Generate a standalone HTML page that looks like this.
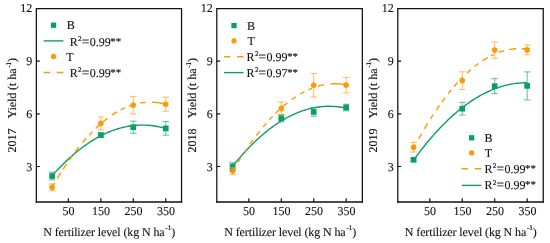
<!DOCTYPE html>
<html lang="en"><head><meta charset="utf-8"><title>Yield vs N fertilizer level</title>
<style>html,body{margin:0;padding:0;background:#fff}svg{display:block}svg text{stroke:#111;stroke-width:0.1px;text-rendering:geometricPrecision}</style></head>
<body>
<svg width="550" height="243" viewBox="0 0 550 243" font-family="'Liberation Serif', 'Times New Roman', serif" font-size="12" fill="#111">
<rect width="550" height="243" fill="#fff"/>
<g>
<rect x="49.30" y="173.15" width="5.7" height="5.7" fill="#0c9f64"/>
<rect x="97.98" y="132.25" width="5.7" height="5.7" fill="#0c9f64"/>
<rect x="130.43" y="124.35" width="5.7" height="5.7" fill="#0c9f64"/>
<rect x="162.88" y="125.55" width="5.7" height="5.7" fill="#0c9f64"/>
<circle cx="52.15" cy="187.30" r="2.8" fill="#ff9906"/>
<circle cx="100.83" cy="123.40" r="2.8" fill="#ff9906"/>
<circle cx="133.28" cy="105.10" r="2.8" fill="#ff9906"/>
<circle cx="165.73" cy="104.20" r="2.8" fill="#ff9906"/>
<path d="M52.15 172.10V179.90M48.80 172.10H55.50M48.80 179.90H55.50M100.83 133.10V137.10M97.48 133.10H104.18M97.48 137.10H104.18M133.28 121.10V133.30M129.93 121.10H136.62M129.93 133.30H136.62M165.73 121.60V135.20M162.38 121.60H169.08M162.38 135.20H169.08" stroke="#0c9f64" stroke-width="0.65" fill="none"/>
<path d="M52.15 183.90V190.70M48.80 183.90H55.50M48.80 190.70H55.50M100.83 117.00V129.80M97.48 117.00H104.18M97.48 129.80H104.18M133.28 96.40V113.80M129.93 96.40H136.62M129.93 113.80H136.62M165.73 97.20V111.20M162.38 97.20H169.08M162.38 111.20H169.08" stroke="#ff9906" stroke-width="0.65" fill="none"/>
<path d="M52.15 175.70 L53.77 173.89 L55.40 172.12 L57.02 170.38 L58.64 168.67 L60.26 167.00 L61.89 165.35 L63.51 163.74 L65.13 162.17 L66.75 160.62 L68.38 159.11 L70.00 157.63 L71.62 156.19 L73.24 154.78 L74.87 153.40 L76.49 152.05 L78.11 150.73 L79.73 149.45 L81.36 148.20 L82.98 146.99 L84.60 145.81 L86.22 144.66 L87.85 143.54 L89.47 142.45 L91.09 141.40 L92.71 140.38 L94.34 139.40 L95.96 138.44 L97.58 137.52 L99.20 136.64 L100.83 135.78 L102.45 134.96 L104.07 134.17 L105.69 133.41 L107.32 132.69 L108.94 132.00 L110.56 131.34 L112.18 130.72 L113.81 130.12 L115.43 129.57 L117.05 129.04 L118.67 128.54 L120.30 128.08 L121.92 127.66 L123.54 127.26 L125.16 126.90 L126.79 126.57 L128.41 126.27 L130.03 126.01 L131.65 125.78 L133.28 125.58 L134.90 125.41 L136.52 125.28 L138.14 125.18 L139.77 125.11 L141.39 125.08 L143.01 125.08 L144.63 125.11 L146.26 125.17 L147.88 125.27 L149.50 125.40 L151.12 125.56 L152.75 125.76 L154.37 125.98 L155.99 126.24 L157.61 126.54 L159.24 126.87 L160.86 127.22 L162.48 127.62 L164.10 128.04 L165.73 128.50" stroke="#0c9f64" stroke-width="1.4" fill="none"/>
<path d="M52.00 187.46 L53.30 185.22 L54.60 183.00M57.40 178.33 L59.15 175.49 L60.90 172.69M63.10 169.26 L64.85 166.59 L66.60 163.97M69.10 160.33 L70.70 158.05 L72.30 155.83M75.30 151.77 L77.05 149.48 L78.80 147.24M82.60 142.57 L84.35 140.50 L86.10 138.49M89.10 135.16 L90.75 133.40 L92.40 131.69M95.80 128.32 L97.35 126.85 L98.90 125.42M103.20 121.68 L104.67 120.48 L106.13 119.32 L107.60 118.19M112.00 115.05 L113.67 113.95 L115.33 112.89 L117.00 111.89M120.70 109.84 L122.17 109.09 L123.63 108.39 L125.10 107.72M129.00 106.12 L130.40 105.61 L131.80 105.14 L133.20 104.70M139.90 103.09 L141.35 102.84 L142.80 102.63 L144.25 102.46 L145.70 102.33M152.10 102.19 L153.59 102.26 L155.08 102.37 L156.57 102.52 L158.06 102.71 L159.54 102.93 L161.03 103.20 L162.52 103.51 L164.01 103.85 L165.50 104.24" stroke="#ff9906" stroke-width="1.4" fill="none"/>
<path d="M35.73 8.65H182.17" stroke="#111" stroke-width="1.25" fill="none"/>
<path d="M35.73 202.05H182.17" stroke="#111" stroke-width="1.40" fill="none"/>
<path d="M36.35 8.65V202.75M181.55 8.65V202.75" stroke="#111" stroke-width="1.25" fill="none"/>
<path d="M68.38 202.05V198.2M100.83 202.05V198.2M133.28 202.05V198.2M165.73 202.05V198.2M36.35 166.52h3.4M36.35 113.78h3.4M36.35 61.04h3.4" stroke="#111" stroke-width="1.2" fill="none"/>
<text x="68.58" y="214.5" text-anchor="middle">50</text>
<text x="101.03" y="214.5" text-anchor="middle">150</text>
<text x="133.47" y="214.5" text-anchor="middle">250</text>
<text x="165.93" y="214.5" text-anchor="middle">350</text>
<text x="32.35" y="170.67" text-anchor="end">3</text>
<text x="32.35" y="117.93" text-anchor="end">6</text>
<text x="32.35" y="65.19" text-anchor="end">9</text>
<text x="32.35" y="12.45" text-anchor="end">12</text>
<text x="109.15" y="235.8" text-anchor="middle" letter-spacing="-0.11">N fertilizer level (kg N ha<tspan font-size="7.2" dy="-5.7" dx="0.8" stroke-width="0.18">-1</tspan><tspan dy="5.7">)</tspan></text>
<text transform="translate(16.35 152.4) rotate(-90)">2017</text>
<text transform="translate(16.35 118.5) rotate(-90)" letter-spacing="-0.07">Yield (t ha<tspan font-size="7.2" dy="-5.7" dx="0.8" stroke-width="0.18">-1</tspan><tspan dy="5.7">)</tspan></text>
<rect x="50.90" y="22.55" width="5.3" height="5.3" fill="#0c9f64"/>
<text x="66.65" y="29.40">B</text>
<path d="M43.65 40.90H63.45" stroke="#0c9f64" stroke-width="1.4"/>
<text x="69.65" y="45.70">R<tspan font-size="7.1" dy="-4.8" dx="0.4" stroke-width="0.22">2</tspan><tspan font-size="13.5" dy="4.8" dx="0.1">=</tspan><tspan dx="0.3">0.99</tspan><tspan font-size="10.8" dy="-1.0" dx="-0.3">**</tspan></text>
<circle cx="53.55" cy="56.50" r="2.65" fill="#ff9906"/>
<text x="66.35" y="60.90">T</text>
<path d="M43.65 72.50h6.4M63.45 72.50h-6.6" stroke="#ff9906" stroke-width="1.4"/>
<text x="69.65" y="76.50">R<tspan font-size="7.1" dy="-4.8" dx="0.4" stroke-width="0.22">2</tspan><tspan font-size="13.5" dy="4.8" dx="0.1">=</tspan><tspan dx="0.3">0.99</tspan><tspan font-size="10.8" dy="-1.0" dx="-0.3">**</tspan></text>
</g>
<g>
<rect x="229.75" y="163.65" width="5.7" height="5.7" fill="#0c9f64"/>
<rect x="278.43" y="115.35" width="5.7" height="5.7" fill="#0c9f64"/>
<rect x="310.88" y="109.05" width="5.7" height="5.7" fill="#0c9f64"/>
<rect x="343.32" y="104.65" width="5.7" height="5.7" fill="#0c9f64"/>
<circle cx="232.60" cy="171.00" r="2.8" fill="#ff9906"/>
<circle cx="281.28" cy="108.40" r="2.8" fill="#ff9906"/>
<circle cx="313.73" cy="85.20" r="2.8" fill="#ff9906"/>
<circle cx="346.18" cy="85.10" r="2.8" fill="#ff9906"/>
<path d="M232.60 162.70V170.30M229.25 162.70H235.95M229.25 170.30H235.95M281.28 114.50V121.90M277.93 114.50H284.63M277.93 121.90H284.63M313.73 107.60V116.20M310.38 107.60H317.08M310.38 116.20H317.08M346.18 104.20V110.80M342.82 104.20H349.53M342.82 110.80H349.53" stroke="#0c9f64" stroke-width="0.65" fill="none"/>
<path d="M232.60 167.40V174.60M229.25 167.40H235.95M229.25 174.60H235.95M281.28 102.00V114.80M277.93 102.00H284.63M277.93 114.80H284.63M313.73 73.40V97.00M310.38 73.40H317.08M310.38 97.00H317.08M346.18 77.30V92.90M342.82 77.30H349.53M342.82 92.90H349.53" stroke="#ff9906" stroke-width="0.65" fill="none"/>
<path d="M232.60 166.30 L234.22 164.30 L235.85 162.33 L237.47 160.39 L239.09 158.49 L240.71 156.62 L242.34 154.78 L243.96 152.98 L245.58 151.22 L247.20 149.49 L248.83 147.79 L250.45 146.12 L252.07 144.49 L253.69 142.90 L255.32 141.34 L256.94 139.81 L258.56 138.31 L260.18 136.85 L261.81 135.43 L263.43 134.04 L265.05 132.68 L266.67 131.36 L268.30 130.07 L269.92 128.81 L271.54 127.59 L273.16 126.40 L274.79 125.25 L276.41 124.13 L278.03 123.04 L279.65 121.99 L281.28 120.98 L282.90 119.99 L284.52 119.04 L286.14 118.13 L287.76 117.25 L289.39 116.40 L291.01 115.59 L292.63 114.81 L294.25 114.06 L295.88 113.35 L297.50 112.68 L299.12 112.03 L300.75 111.42 L302.37 110.85 L303.99 110.31 L305.61 109.80 L307.24 109.33 L308.86 108.89 L310.48 108.49 L312.10 108.12 L313.73 107.78 L315.35 107.48 L316.97 107.21 L318.59 106.97 L320.22 106.77 L321.84 106.61 L323.46 106.48 L325.08 106.38 L326.71 106.31 L328.33 106.28 L329.95 106.29 L331.57 106.33 L333.19 106.40 L334.82 106.50 L336.44 106.64 L338.06 106.82 L339.69 107.03 L341.31 107.27 L342.93 107.55 L344.55 107.86 L346.18 108.20" stroke="#0c9f64" stroke-width="1.4" fill="none"/>
<path d="M232.60 171.30 L234.50 168.09M238.00 162.35 L239.25 160.34 L240.50 158.36M244.90 151.61 L247.10 148.35M250.00 144.18 L251.60 141.93 L253.20 139.74M256.30 135.59 L258.05 133.33 L259.80 131.11M263.20 126.95 L264.75 125.11 L266.30 123.32M269.50 119.74 L271.05 118.07 L272.60 116.43M275.50 113.49 L277.15 111.87 L278.80 110.30M283.20 106.33 L284.60 105.14 L286.00 103.98 L287.40 102.85M291.50 99.73 L292.93 98.70 L294.37 97.71 L295.80 96.75M300.20 94.02 L301.63 93.20 L303.07 92.42 L304.50 91.67M308.20 89.89 L309.47 89.33 L310.73 88.80 L312.00 88.29M318.20 86.20 L319.68 85.80 L321.15 85.43 L322.62 85.10 L324.10 84.81M330.20 83.97 L331.65 83.86 L333.11 83.79 L334.56 83.75 L336.02 83.75 L337.47 83.78 L338.93 83.85 L340.38 83.95 L341.84 84.08 L343.29 84.26 L344.75 84.46 L346.20 84.70" stroke="#ff9906" stroke-width="1.4" fill="none"/>
<path d="M216.18 8.65H362.97" stroke="#111" stroke-width="1.25" fill="none"/>
<path d="M216.18 202.05H362.97" stroke="#111" stroke-width="1.40" fill="none"/>
<path d="M216.80 8.65V202.75M362.35 8.65V202.75" stroke="#111" stroke-width="1.25" fill="none"/>
<path d="M248.83 202.05V198.2M281.28 202.05V198.2M313.73 202.05V198.2M346.18 202.05V198.2M216.80 166.52h3.4M216.80 113.78h3.4M216.80 61.04h3.4" stroke="#111" stroke-width="1.2" fill="none"/>
<text x="249.03" y="214.5" text-anchor="middle">50</text>
<text x="281.48" y="214.5" text-anchor="middle">150</text>
<text x="313.93" y="214.5" text-anchor="middle">250</text>
<text x="346.38" y="214.5" text-anchor="middle">350</text>
<text x="212.80" y="170.67" text-anchor="end">3</text>
<text x="212.80" y="117.93" text-anchor="end">6</text>
<text x="212.80" y="65.19" text-anchor="end">9</text>
<text x="212.80" y="12.45" text-anchor="end">12</text>
<text x="290.18" y="235.8" text-anchor="middle" letter-spacing="-0.11">N fertilizer level (kg N ha<tspan font-size="7.2" dy="-5.7" dx="0.8" stroke-width="0.18">-1</tspan><tspan dy="5.7">)</tspan></text>
<text transform="translate(196.30 152.4) rotate(-90)">2018</text>
<text transform="translate(196.30 118.5) rotate(-90)" letter-spacing="-0.07">Yield (t ha<tspan font-size="7.2" dy="-5.7" dx="0.8" stroke-width="0.18">-1</tspan><tspan dy="5.7">)</tspan></text>
<rect x="231.35" y="22.95" width="5.3" height="5.3" fill="#0c9f64"/>
<text x="246.90" y="29.70">B</text>
<circle cx="234.00" cy="40.90" r="2.65" fill="#ff9906"/>
<text x="247.40" y="44.60">T</text>
<path d="M224.00 56.70h6.4M243.60 56.70h-6.6" stroke="#ff9906" stroke-width="1.4"/>
<text x="246.50" y="60.60">R<tspan font-size="7.1" dy="-4.8" dx="0.4" stroke-width="0.22">2</tspan><tspan font-size="13.5" dy="4.8" dx="0.1">=</tspan><tspan dx="0.3">0.99</tspan><tspan font-size="10.8" dy="-1.0" dx="-0.3">**</tspan></text>
<path d="M224.00 72.60H243.60" stroke="#0c9f64" stroke-width="1.4"/>
<text x="246.50" y="76.80">R<tspan font-size="7.1" dy="-4.8" dx="0.4" stroke-width="0.22">2</tspan><tspan font-size="13.5" dy="4.8" dx="0.1">=</tspan><tspan dx="0.3">0.97</tspan><tspan font-size="10.8" dy="-1.0" dx="-0.3">**</tspan></text>
</g>
<g>
<rect x="410.75" y="156.95" width="5.7" height="5.7" fill="#0c9f64"/>
<rect x="459.43" y="105.85" width="5.7" height="5.7" fill="#0c9f64"/>
<rect x="491.88" y="83.35" width="5.7" height="5.7" fill="#0c9f64"/>
<rect x="524.33" y="83.05" width="5.7" height="5.7" fill="#0c9f64"/>
<circle cx="413.60" cy="147.20" r="2.8" fill="#ff9906"/>
<circle cx="462.28" cy="80.60" r="2.8" fill="#ff9906"/>
<circle cx="494.73" cy="50.10" r="2.8" fill="#ff9906"/>
<circle cx="527.18" cy="49.90" r="2.8" fill="#ff9906"/>
<path d="M413.60 158.30V161.30M410.25 158.30H416.95M410.25 161.30H416.95M462.28 102.30V115.10M458.93 102.30H465.63M458.93 115.10H465.63M494.73 78.70V93.70M491.38 78.70H498.08M491.38 93.70H498.08M527.18 71.90V99.90M523.83 71.90H530.53M523.83 99.90H530.53" stroke="#0c9f64" stroke-width="0.65" fill="none"/>
<path d="M413.60 142.30V152.10M410.25 142.30H416.95M410.25 152.10H416.95M462.28 71.80V89.40M458.93 71.80H465.63M458.93 89.40H465.63M494.73 41.95V58.25M491.38 41.95H498.08M491.38 58.25H498.08M527.18 45.00V54.80M523.83 45.00H530.53M523.83 54.80H530.53" stroke="#ff9906" stroke-width="0.65" fill="none"/>
<path d="M413.60 160.10 L415.22 157.88 L416.85 155.70 L418.47 153.55 L420.09 151.43 L421.71 149.34 L423.34 147.28 L424.96 145.26 L426.58 143.27 L428.20 141.31 L429.83 139.38 L431.45 137.49 L433.07 135.63 L434.69 133.80 L436.32 132.00 L437.94 130.23 L439.56 128.50 L441.18 126.80 L442.81 125.13 L444.43 123.50 L446.05 121.89 L447.67 120.32 L449.30 118.78 L450.92 117.27 L452.54 115.80 L454.16 114.36 L455.79 112.94 L457.41 111.57 L459.03 110.22 L460.65 108.91 L462.28 107.62 L463.90 106.38 L465.52 105.16 L467.14 103.97 L468.77 102.82 L470.39 101.70 L472.01 100.61 L473.63 99.56 L475.26 98.53 L476.88 97.54 L478.50 96.58 L480.12 95.65 L481.75 94.76 L483.37 93.90 L484.99 93.07 L486.61 92.27 L488.24 91.50 L489.86 90.77 L491.48 90.07 L493.10 89.40 L494.73 88.76 L496.35 88.16 L497.97 87.59 L499.59 87.05 L501.22 86.54 L502.84 86.06 L504.46 85.62 L506.08 85.21 L507.71 84.83 L509.33 84.48 L510.95 84.17 L512.57 83.89 L514.20 83.64 L515.82 83.42 L517.44 83.23 L519.06 83.08 L520.69 82.96 L522.31 82.87 L523.93 82.82 L525.55 82.79 L527.18 82.80" stroke="#0c9f64" stroke-width="1.4" fill="none"/>
<path d="M413.70 147.81 L415.50 144.47M418.70 138.66 L420.15 136.09 L421.60 133.56M424.40 128.77 L426.00 126.10 L427.60 123.47M430.50 118.82 L431.85 116.71 L433.20 114.63M436.20 110.12 L437.80 107.78 L439.40 105.48M441.90 101.99 L443.50 99.81 L445.10 97.68M448.20 93.68 L449.75 91.74 L451.30 89.85M454.10 86.53 L455.85 84.53 L457.60 82.58M460.00 80.00 L461.30 78.64 L462.60 77.32M467.00 73.05 L468.85 71.36 L470.70 69.73M474.50 66.57 L475.83 65.52 L477.17 64.50 L478.50 63.52M482.50 60.75 L483.82 59.90 L485.15 59.07 L486.48 58.28 L487.80 57.52M490.90 55.86 L492.35 55.15 L493.80 54.47M498.70 52.44 L500.05 51.96 L501.40 51.51 L502.75 51.09 L504.10 50.71M509.00 49.58 L510.46 49.32 L511.92 49.11 L513.38 48.93 L514.84 48.79 L516.30 48.68M521.80 48.63 L523.15 48.70 L524.50 48.80 L525.85 48.94 L527.20 49.10" stroke="#ff9906" stroke-width="1.4" fill="none"/>
<path d="M397.18 8.65H543.87" stroke="#111" stroke-width="1.25" fill="none"/>
<path d="M397.18 202.05H543.87" stroke="#111" stroke-width="1.40" fill="none"/>
<path d="M397.80 8.65V202.75M543.25 8.65V202.75" stroke="#111" stroke-width="1.25" fill="none"/>
<path d="M429.83 202.05V198.2M462.28 202.05V198.2M494.73 202.05V198.2M527.18 202.05V198.2M397.80 166.52h3.4M397.80 113.78h3.4M397.80 61.04h3.4" stroke="#111" stroke-width="1.2" fill="none"/>
<text x="430.03" y="214.5" text-anchor="middle">50</text>
<text x="462.48" y="214.5" text-anchor="middle">150</text>
<text x="494.93" y="214.5" text-anchor="middle">250</text>
<text x="527.38" y="214.5" text-anchor="middle">350</text>
<text x="393.80" y="170.67" text-anchor="end">3</text>
<text x="393.80" y="117.93" text-anchor="end">6</text>
<text x="393.80" y="65.19" text-anchor="end">9</text>
<text x="393.80" y="12.45" text-anchor="end">12</text>
<text x="470.72" y="235.8" text-anchor="middle" letter-spacing="-0.11">N fertilizer level (kg N ha<tspan font-size="7.2" dy="-5.7" dx="0.8" stroke-width="0.18">-1</tspan><tspan dy="5.7">)</tspan></text>
<text transform="translate(376.80 152.4) rotate(-90)">2019</text>
<text transform="translate(376.80 118.5) rotate(-90)" letter-spacing="-0.07">Yield (t ha<tspan font-size="7.2" dy="-5.7" dx="0.8" stroke-width="0.18">-1</tspan><tspan dy="5.7">)</tspan></text>
<rect x="468.95" y="135.15" width="5.3" height="5.3" fill="#0c9f64"/>
<text x="484.60" y="141.70">B</text>
<circle cx="471.60" cy="152.90" r="2.65" fill="#ff9906"/>
<text x="484.80" y="156.80">T</text>
<path d="M461.70 168.70h6.4M481.30 168.70h-6.6" stroke="#ff9906" stroke-width="1.4"/>
<text x="484.40" y="172.90">R<tspan font-size="7.1" dy="-4.8" dx="0.4" stroke-width="0.22">2</tspan><tspan font-size="13.5" dy="4.8" dx="0.1">=</tspan><tspan dx="0.3">0.99</tspan><tspan font-size="10.8" dy="-1.0" dx="-0.3">**</tspan></text>
<path d="M461.70 185.40H481.30" stroke="#0c9f64" stroke-width="1.4"/>
<text x="484.40" y="189.30">R<tspan font-size="7.1" dy="-4.8" dx="0.4" stroke-width="0.22">2</tspan><tspan font-size="13.5" dy="4.8" dx="0.1">=</tspan><tspan dx="0.3">0.99</tspan><tspan font-size="10.8" dy="-1.0" dx="-0.3">**</tspan></text>
</g>
</svg>
</body></html>
